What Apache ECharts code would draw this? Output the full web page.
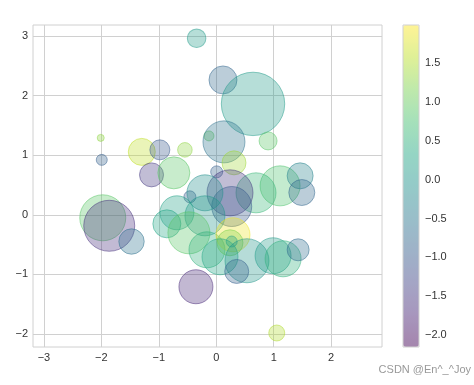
<!DOCTYPE html>
<html>
<head>
<meta charset="utf-8">
<script src="https://cdn.jsdelivr.net/npm/echarts@6/dist/echarts.min.js"></script>
<style>html,body{margin:0;padding:0;background:#fff}#c{width:474px;height:385px}</style>
</head>
<body>
<div id="c"></div>
<script>
// ---- data ----
var xs = [-0.342,-2.011,-1.993,-1.296,-0.982,-0.546,-1.127,-0.738,-0.127,0.007,0.117,0.640,0.134,0.902,0.309,1.111,0.692,1.460,1.489,0.239,0.269,-0.459,-0.197,-0.197,-1.976,-1.863,-1.475,-0.860,-0.685,-0.476,-0.162,-0.354,0.291,0.239,0.269,0.065,0.535,0.356,0.989,1.163,1.425,1.053];
var ys = [2.962,1.291,0.922,1.056,1.090,1.090,0.670,0.704,1.324,0.721,2.263,1.861,1.224,1.240,0.872,0.486,0.369,0.654,0.374,0.369,0.139,0.302,0.369,-0.017,-0.050,-0.184,-0.448,-0.151,0.034,-0.302,-0.587,-1.207,-0.335,-0.469,-0.448,-0.704,-0.771,-0.950,-0.687,-0.738,-0.587,-1.983];
var cs = [0.1,1.3,-0.9,1.6,-1.0,1.3,-1.5,0.9,1.0,-0.9,-0.8,0.1,-0.6,0.9,1.4,0.8,0.6,-0.3,-0.8,-1.5,-1.0,-1.0,-0.1,0.0,0.9,-1.6,-0.6,0.3,0.2,0.9,0.5,-1.7,1.9,1.2,0.2,0.3,0.0,-0.9,0.1,0.5,-0.7,1.5];
var sizes = [346,49,121,729,400,213,576,1024,100,144,784,4020,1764,324,576,1600,1600,676,676,2116,1600,144,1296,1600,2116,2601,645,784,1156,1764,1296,1156,1156,676,121,1296,1936,576,1296,1296,484,256];
var xTicks = [-3,-2,-1,0,1,2];
var yTicks = [-2,-1,0,1,2,3];
var cTicks = [-2.0,-1.5,-1.0,-0.5,0.0,0.5,1.0,1.5];
var cMin = -2.155, cMax = 1.995;

var viridis = ['#440154','#482475','#414487','#355f8d','#2a788e','#21918c','#22a884','#44bf70','#7ad151','#bddf26','#fde725'];
function rgb(h){return [parseInt(h.substr(1,2),16),parseInt(h.substr(3,2),16),parseInt(h.substr(5,2),16)];}
function hexA(h,a){var c=rgb(h);return 'rgba('+c[0]+','+c[1]+','+c[2]+','+a+')';}
function onWhite(h,a){var c=rgb(h);return 'rgb('+c.map(function(v){return Math.round(v*a+255*(1-a));}).join(',')+')';}
function cmap(v,a){var t=(v-cMin)/(cMax-cMin);t=Math.max(0,Math.min(1,t))*(viridis.length-1);var i=Math.min(Math.floor(t),viridis.length-2),f=t-i;
  var A=rgb(viridis[i]),B=rgb(viridis[i+1]);return 'rgba('+Math.round(A[0]+(B[0]-A[0])*f)+','+Math.round(A[1]+(B[1]-A[1])*f)+','+Math.round(A[2]+(B[2]-A[2])*f)+','+a+')';}
function minus(v,d){var s=Math.abs(v).toFixed(d);return (v<0?'\u2212':'')+s;}

var data = xs.map(function(x,i){return {value:[x,ys[i],cs[i],sizes[i]],itemStyle:{borderColor:cmap(cs[i],0.5)}};});
var font = 'Liberation Sans';
var chart = echarts.init(document.getElementById('c'),null,{renderer:'canvas'});
chart.setOption({
  animation:false,
  backgroundColor:'#fff',
  grid:[
    {left:33,top:25,width:349,height:322,show:true,borderColor:'#d0d0d0',borderWidth:1,backgroundColor:'transparent'},
    {left:403,top:25,width:16,height:322,show:true,borderColor:'#d0d0d0',borderWidth:1,backgroundColor:'transparent',z:10}
  ],
  xAxis:[
    {type:'value',gridIndex:0,min:-3.19,max:2.885,axisLine:{show:false},axisTick:{show:false,customValues:xTicks},
     axisLabel:{customValues:xTicks,formatter:function(v){return minus(v,0);},color:'#333',fontFamily:font,fontSize:11,margin:5},
     splitLine:{show:true,lineStyle:{color:'#d0d0d0',width:1}}},
    {type:'value',gridIndex:1,show:false,min:0,max:1}
  ],
  yAxis:[
    {type:'value',gridIndex:0,min:-2.218,max:3.185,axisLine:{show:false},axisTick:{show:false,customValues:yTicks},
     axisLabel:{customValues:yTicks,formatter:function(v){return minus(v,0);},color:'#333',fontFamily:font,fontSize:11,margin:5},
     splitLine:{show:true,lineStyle:{color:'#d0d0d0',width:1}}},
    {type:'value',gridIndex:1,position:'right',min:cMin,max:cMax,axisLine:{show:false},axisTick:{show:false,customValues:cTicks},
     axisLabel:{customValues:cTicks,formatter:function(v){return minus(v,1);},color:'#333',fontFamily:font,fontSize:11,margin:6},
     splitLine:{show:false}}
  ],
  visualMap:{type:'continuous',min:cMin,max:cMax,dimension:2,seriesIndex:0,orient:'vertical',left:403,top:25,
    itemWidth:16,itemHeight:322,padding:0,calculable:false,hoverLink:false,text:null,showLabel:false,
    inRange:{color:viridis.map(function(h){return hexA(h,0.33);})},
    outOfRange:{color:'rgba(0,0,0,0)'},
    controller:{inRange:{color:viridis.map(function(h){return onWhite(h,0.48);})},outOfRange:{color:'rgba(0,0,0,0)'}}},
  graphic:[{type:'text',right:3,top:364,style:{text:'CSDN @En^_^Joy',fill:'#999',font:'11px "Liberation Sans"'}}],
  series:[{type:'scatter',xAxisIndex:0,yAxisIndex:0,data:data,
    symbolSize:function(v){return Math.sqrt(v[3]);},
    itemStyle:{borderWidth:1,opacity:1}}]
});
</script>
</body>
</html>
